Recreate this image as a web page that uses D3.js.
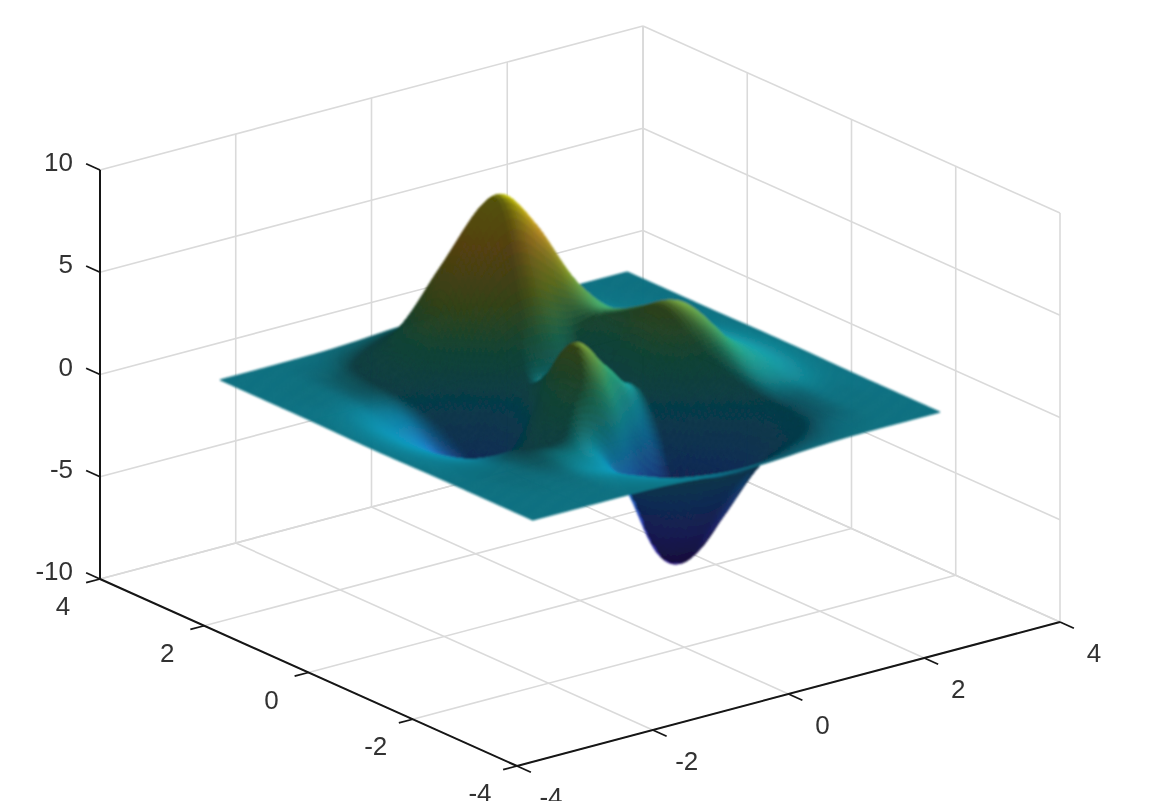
<!DOCTYPE html>
<html><head><meta charset="utf-8">
<script src="https://cdn.jsdelivr.net/npm/d3@7"></script>
<style>html,body{margin:0;padding:0;background:#fff;overflow:hidden}svg{display:block}</style>
</head><body><svg id="c" width="1157" height="801"></svg>
<script>
// Axis ticks
const xTicks=[-4,-2,0,2,4];
const yTicks=[-4,-2,0,2,4];
const zTicks=[-10,-5,0,5,10];
// Surface sample positions
const gridX=[-3,-2.5,-2,-1.5,-1,-.5,0,.5,1,1.5,2,2.5,3];
const gridY=[-3,-2.5,-2,-1.5,-1,-.5,0,.5,1,1.5,2,2.5,3];
// Estimated heights, one row per y value
const rowM30=[0,0,0,0,-.03,-.14,-.24,-.22,-.11,-.03,0,0,0];
const rowM25=[0,0,.01,0,-.23,-.92,-1.57,-1.41,-.69,-.18,-.03,0,0];
const rowM20=[0,.01,.05,.05,-.59,-2.64,-4.76,-4.35,-2.10,-.53,-.06,0,0];
const rowM15=[0,.01,.08,.33,.15,-2.19,-5.95,-6.05,-2.64,-.44,.04,.03,0];
const rowM10=[-.01,-.06,-.13,.30,1.86,2.23,-.72,-2.22,-.27,.88,.50,.11,.01];
const rowM05=[-.03,-.20,-.80,-1.21,.80,3.55,2.00,.39,2.20,2.56,1.12,.24,.03];
const rowP00=[-.04,-.30,-1.33,-2.77,-1.65,1.48,.98,.38,2.94,3.27,1.41,.30,.03];
const rowP05=[-.03,-.25,-1.12,-2.49,-2.00,.39,.46,.38,2.38,2.56,1.09,.23,.03];
const rowP10=[-.01,-.11,-.48,-.86,.23,2.79,3.69,2.94,2.43,1.58,.58,.11,.01];
const rowP15=[0,-.02,-.01,.48,2.61,6.20,8.00,6.25,3.26,1.19,.29,.05,0];
const rowP20=[0,.01,.08,.55,2.10,4.56,5.86,4.57,2.21,.68,.13,.02,0];
const rowP25=[0,0,.03,.19,.69,1.47,1.89,1.47,.70,.21,.04,0,0];
const rowP30=[0,0,.01,.03,.11,.23,.30,.23,.11,.03,.01,0,0];
const zRows=[rowM30,rowM25,rowM20,rowM15,rowM10,rowM05,rowP00,rowP05,rowP10,rowP15,rowP20,rowP25,rowP30];
// Colour map stops and limits
const parulaStops=["#3e26a8","#4852f4","#2d87f7","#12b1d6","#37c897","#abc739","#fec338","#f9fb14"];
const colorLimits=[-6.55,8.1];

// Projection: each data axis contributes to the screen position through a scale
const ORIGIN=[580,396];
const xToPx=d3.scaleLinear().domain([-4,4]).range([-271.5,271.5]);
const yToPx=d3.scaleLinear().domain([-4,4]).range([208.5,-208.5]);
const xToPy=d3.scaleLinear().domain([-4,4]).range([72,-72]);
const yToPy=d3.scaleLinear().domain([-4,4]).range([93.5,-93.5]);
const zToPy=d3.scaleLinear().domain([-10,10]).range([204.5,-204.5]);
const proj=(x,y,z)=>[ORIGIN[0]+xToPx(x)+yToPx(y),ORIGIN[1]+xToPy(x)+yToPy(y)+zToPy(z)];
const viewDir=[-.768,-1,1.819];

const svg=d3.select("#c");
const defs=svg.append("defs");
function addBlur(id,sd){
  defs.append("filter").attr("id",id).attr("filterUnits","userSpaceOnUse")
    .attr("x",0).attr("y",0).attr("width",1157).attr("height",801)
    .append("feGaussianBlur").attr("stdDeviation",sd);
}
addBlur("soft",0.6);
addBlur("softer",0.9);
const root=svg.append("g").attr("filter","url(#soft)");
const line=d3.line();

// Grid walls and floor
const GRID="#dadada";
const gridSegs=[];
xTicks.forEach(x=>{gridSegs.push([[x,4,-10],[x,4,10]]);gridSegs.push([[x,4,-10],[x,-4,-10]]);});
yTicks.forEach(y=>{gridSegs.push([[4,y,-10],[4,y,10]]);gridSegs.push([[-4,y,-10],[4,y,-10]]);});
zTicks.forEach(z=>{gridSegs.push([[-4,4,z],[4,4,z]]);gridSegs.push([[4,4,z],[4,-4,z]]);});
root.append("g").selectAll("path").data(gridSegs).join("path")
  .attr("d",s=>line(s.map(p=>proj(...p)))).attr("fill","none").attr("stroke",GRID).attr("stroke-width",1.6);

// Axis lines
const AX="#141414";
const axisSegs=[[[-4,4,-10],[-4,4,10]],[[-4,4,-10],[-4,-4,-10]],[[-4,-4,-10],[4,-4,-10]]];
root.append("g").selectAll("path").data(axisSegs).join("path")
  .attr("d",s=>line(s.map(p=>proj(...p)))).attr("fill","none").attr("stroke",AX).attr("stroke-width",2);
// Ticks
const TICK=.205;
const tickSegs=[];
zTicks.forEach(z=>tickSegs.push([[-4,4,z],[-4,4+TICK*1.3,z]]));
yTicks.forEach(y=>tickSegs.push([[-4,y,-10],[-4-TICK,y,-10]]));
xTicks.forEach(x=>tickSegs.push([[x,-4,-10],[x,-4-TICK*1.3,-10]]));
root.append("g").selectAll("path").data(tickSegs).join("path")
  .attr("d",s=>line(s.map(p=>proj(...p)))).attr("fill","none").attr("stroke",AX).attr("stroke-width",1.8);

// Tick labels
const labelFont="'Liberation Sans',Arial,sans-serif";
const labelGroup=root.append("g").attr("font-family",labelFont).attr("font-size",26).attr("fill","#333");
labelGroup.append("g").selectAll("text").data(zTicks).join("text")
  .attr("text-anchor","end").attr("x",73).attr("y",z=>proj(-4,4,z)[1]+1).text(d=>d);
labelGroup.append("g").selectAll("text").data(yTicks).join("text")
  .attr("text-anchor","middle")
  .attr("x",y=>proj(-4,y,-10)[0]-37).attr("y",y=>proj(-4,y,-10)[1]+36).text(d=>d);
labelGroup.append("g").selectAll("text").data(xTicks).join("text")
  .attr("text-anchor","middle")
  .attr("x",x=>proj(x,-4,-10)[0]+34).attr("y",x=>proj(x,-4,-10)[1]+40).text(d=>d);

// Smooth evaluation between table values
function cr(p0,p1,p2,p3,t){return .5*((2*p1)+(-p0+p2)*t+(2*p0-5*p1+4*p2-p3)*t*t+(-p0+3*p1-3*p2+p3)*t*t*t);}
const n=gridX.length;
const at=(i,j)=>zRows[Math.max(0,Math.min(n-1,j))][Math.max(0,Math.min(n-1,i))];
const iScale=d3.scaleLinear().domain(d3.extent(gridX)).range([0,n-1]);
const jScale=d3.scaleLinear().domain(d3.extent(gridY)).range([0,n-1]);
function height(x,y){
  const u=Math.max(0,Math.min(n-1.000001,iScale(x))),v=Math.max(0,Math.min(n-1.000001,jScale(y)));
  const i=Math.floor(u),j=Math.floor(v),s=u-i,t=v-j;
  const r=[-1,0,1,2].map(d=>cr(at(i-1,j+d),at(i,j+d),at(i+1,j+d),at(i+2,j+d),s));
  return cr(r[0],r[1],r[2],r[3],t);
}
// Colour with lighting
const parula=d3.scaleLinear().domain(parulaStops.map((_,i)=>i/(parulaStops.length-1))).range(parulaStops).interpolate(d3.interpolateRgb).clamp(true);
const cNorm=d3.scaleLinear().domain(colorLimits).range([0,1]).clamp(true);
const LIGHT=(()=>{const l=[.85,0,.53],m=Math.hypot(...l);return l.map(v=>v/m);})();
const AMB=.33,DIF=.56,NORMAL_Z=.6;
const vd=(()=>{const m=Math.hypot(...viewDir);return viewDir.map(v=>v/m);})();
function shade(x,y,z){
  const e=.16;
  const dx=NORMAL_Z*(height(x+e,y)-height(x-e,y))/(2*e),dy=NORMAL_Z*(height(x,y+e)-height(x,y-e))/(2*e);
  const m=Math.hypot(dx,dy,1);
  let N=[-dx/m,-dy/m,1/m];
  // Seen from below, the surface is lit from the viewer's side
  if(N[0]*vd[0]+N[1]*vd[1]+N[2]*vd[2]<0) N=N.map(v=>-v);
  const d=Math.max(0,N[0]*LIGHT[0]+N[1]*LIGHT[1]+N[2]*LIGHT[2]);
  const c=d3.rgb(parula(cNorm(z))),f=AMB+DIF*d;
  return d3.rgb(c.r*f,c.g*f,c.b*f).formatHex();
}
// Cells
const SUB=10,cells=[];
const steps=(n-1)*SUB,stepSize=(gridX[n-1]-gridX[0])/steps;
const h=[];
for(let a=0;a<=steps;a++){h[a]=[];for(let b=0;b<=steps;b++)h[a][b]=height(gridX[0]+a*stepSize,gridY[0]+b*stepSize);}
for(let a=0;a<steps;a++)for(let b=0;b<steps;b++){
  const x0=gridX[0]+a*stepSize,y0=gridY[0]+b*stepSize,x1=x0+stepSize,y1=y0+stepSize;
  const zc=(h[a][b]+h[a+1][b]+h[a][b+1]+h[a+1][b+1])/4,xc=(x0+x1)/2,yc=(y0+y1)/2;
  cells.push({pts:[proj(x0,y0,h[a][b]),proj(x1,y0,h[a+1][b]),proj(x1,y1,h[a+1][b+1]),proj(x0,y1,h[a][b+1])],
    depth:xc*viewDir[0]+yc*viewDir[1]+zc*viewDir[2],col:shade(xc,yc,zc)});
}
cells.sort((p,q)=>p.depth-q.depth);
root.append("g").attr("filter","url(#softer)").selectAll("path").data(cells).join("path")
  .attr("d",c=>line(c.pts)+"Z").attr("fill",c=>c.col).attr("stroke",c=>c.col).attr("stroke-width",.9).attr("stroke-linejoin","round");
</script></body></html>
